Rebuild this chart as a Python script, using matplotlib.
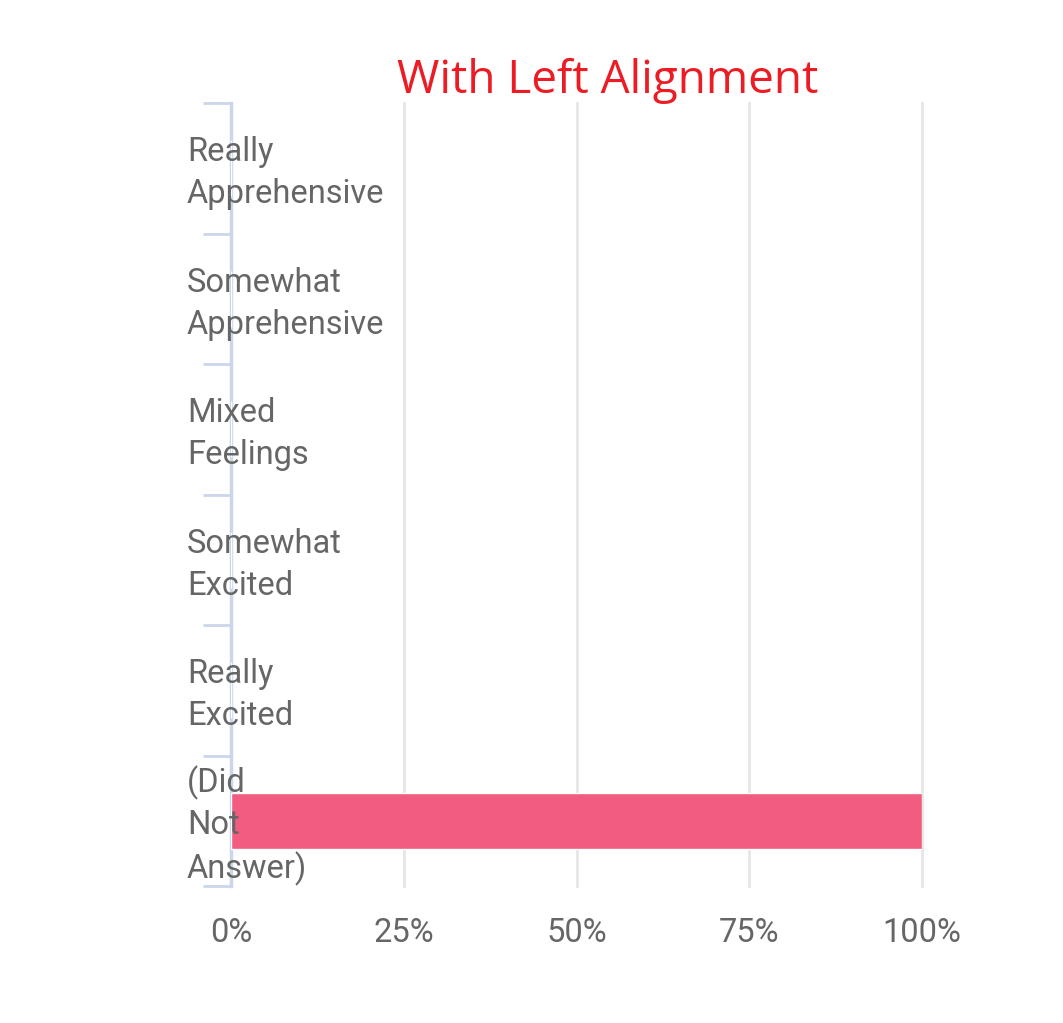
import matplotlib
matplotlib.use('Agg')
import matplotlib.pyplot as plt
from matplotlib.transforms import blended_transform_factory, offset_copy

# chart data
categories = ['Really\nApprehensive', 'Somewhat\nApprehensive', 'Mixed\nFeelings',
              'Somewhat\nExcited', 'Really\nExcited', '(Did\nNot\nAnswer)']
values = [0, 0, 0, 0, 0, 100]
x_ticks = [0, 25, 50, 75, 100]
x_tick_labels = ['0%', '25%', '50%', '75%', '100%']

W, H, DPI = 1063, 1023, 100
fig = plt.figure(figsize=(W / DPI, H / DPI), dpi=DPI)
ax = fig.add_axes([231 / W, 1 - 886 / H, (922 - 231) / W, (886 - 103) / H])

pos = list(range(len(categories)))
ax.barh(pos, values, height=0.43, color='#f15c80', edgecolor='white',
        linewidth=1, zorder=3)

ax.set_xlim(0, 100)
ax.set_ylim(len(categories) - 0.5, -0.5)

# grid lines
for t in x_ticks[1:]:
    ax.axvline(t, color='#e6e6e6', lw=2, zorder=1, clip_on=False)

for s in ['top', 'right', 'bottom']:
    ax.spines[s].set_visible(False)
ax.spines['left'].set_color('#ccd6eb')
ax.spines['left'].set_linewidth(2.5)
ax.spines['left'].set_zorder(2)

ax.set_xticks(x_ticks)
ax.set_xticklabels(x_tick_labels, fontsize=23.5, color='#666666', family='Roboto')
ax.tick_params(axis='x', length=0, pad=22)

# category boundary ticks
ax.set_yticks([p - 0.5 for p in pos] + [len(pos) - 0.5])
ax.set_yticklabels([])
ax.tick_params(axis='y', length=20, width=2, color='#ccd6eb', direction='out')

# left-aligned category labels drawn over the axis
trans = blended_transform_factory(fig.transFigure, ax.transData)
trans = offset_copy(trans, fig=fig, y=-5, units='dots')
for p, lab in zip(pos, categories):
    ax.text(187 / W, p, lab, transform=trans, ha='left', va='center',
            fontsize=23.5, color='#666666', family='Roboto', linespacing=1.39,
            zorder=5, clip_on=False)

fig.text(608 / W, 1 - 81 / H, 'With Left Alignment', ha='center', va='center',
         fontsize=33, color='#ec1c24', family='Open Sans')

fig.savefig('out.png', dpi=DPI)
